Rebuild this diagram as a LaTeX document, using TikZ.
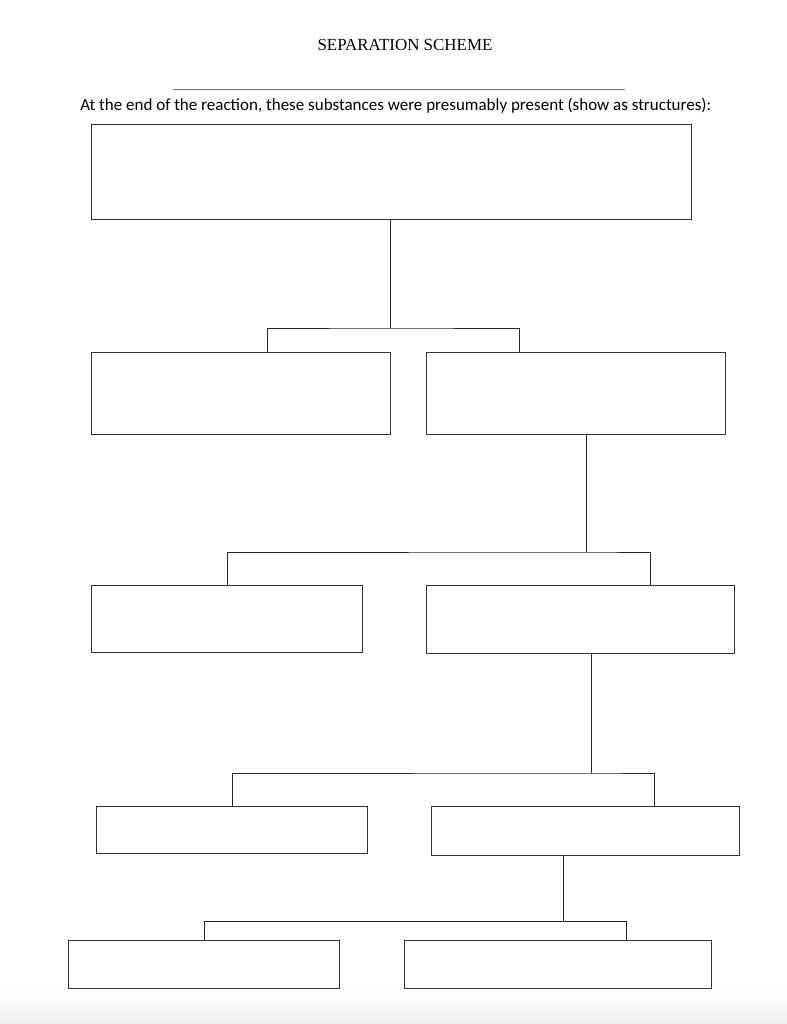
\documentclass[tikz,border=0pt]{standalone}
\usepackage{fontspec}
\usetikzlibrary{calc}
\setmainfont{Liberation Serif}
\newfontfamily\bodyfont{Carlito}
\begin{document}
\begin{tikzpicture}[x=0.75pt,y=-0.75pt,
  box/.style={draw=black!80,line width=0.65pt,fill=white,anchor=north west,inner sep=0pt,outer sep=0pt},
  conn/.style={draw=black!85,line width=0.65pt}]
\useasboundingbox (0,0) rectangle (787,1024);
\shade[top color=white,bottom color=black!6] (0,985) rectangle (787,1024);
\node[font=\fontsize{12.7}{14}\selectfont] (title) at (405,45) {SEPARATION SCHEME};
\draw[black!55,line width=0.5pt] (173,89) coordinate (ul1) -- (625,89) coordinate (ul2);
\node[font=\bodyfont\fontsize{12.75}{14}\selectfont,anchor=base west,inner sep=0pt] (intro) at (80,110) {At the end of the reaction, these substances were presumably present (show as structures):};
% boxes
\node[box,minimum width=450pt,minimum height=71.25pt] (b1) at (91,124) {};
\node[box,minimum width=224.25pt,minimum height=61.5pt] (b2l) at (91,352) {};
\node[box,minimum width=224.25pt,minimum height=61.5pt] (b2r) at (426,352) {};
\node[box,minimum width=203.25pt,minimum height=50.25pt] (b3l) at (91,585) {};
\node[box,minimum width=231pt,minimum height=51pt] (b3r) at (426,585) {};
\node[box,minimum width=203.25pt,minimum height=35.25pt] (b4l) at (96,806) {};
\node[box,minimum width=231pt,minimum height=36.75pt] (b4r) at (431,806) {};
\node[box,minimum width=203.25pt,minimum height=36pt] (b5l) at (68,940) {};
\node[box,minimum width=230.25pt,minimum height=36pt] (b5r) at (404,940) {};
% junctions
\coordinate (s1) at ($(b1.south west)+(299,0)$);
\coordinate (h1) at ($(s1)+(0,109)$);
\coordinate (s2) at ($(b2r.south west)+(160,0)$);
\coordinate (h2) at ($(s2)+(0,118)$);
\coordinate (s3) at ($(b3r.south west)+(165,0)$);
\coordinate (h3) at ($(s3)+(0,120)$);
\coordinate (s4) at ($(b4r.south west)+(132,0)$);
\coordinate (h4) at ($(s4)+(0,66)$);
% connectors
\draw[conn] (s1) -- (h1);
\draw[conn] ($(b2l.north west)+(176,0)$) |- (h1) -| ($(b2r.north west)+(93,0)$);
\draw[conn] (s2) -- (h2);
\draw[conn] ($(b3l.north west)+(136,0)$) |- (h2) -| ($(b3r.north west)+(224,0)$);
\draw[conn] (s3) -- (h3);
\draw[conn] ($(b4l.north west)+(136,0)$) |- (h3) -| ($(b4r.north west)+(223,0)$);
\draw[conn] (s4) -- (h4);
\draw[conn] ($(b5l.north west)+(136,0)$) |- (h4) -| ($(b5r.north west)+(222,0)$);
\end{tikzpicture}
\end{document}
